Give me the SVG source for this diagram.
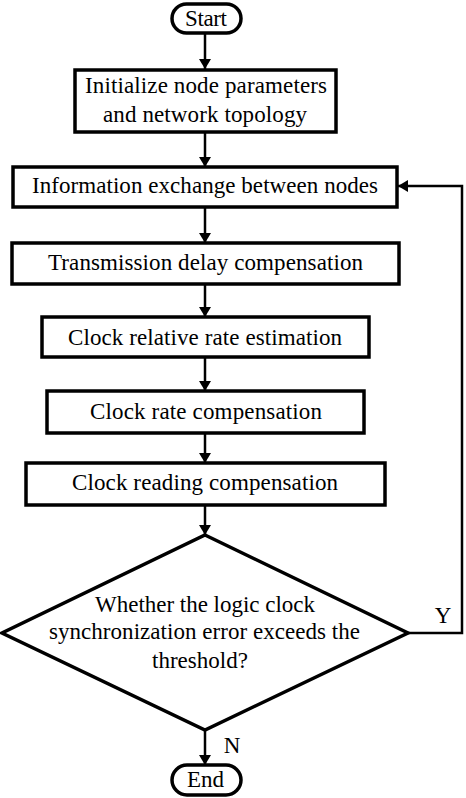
<svg xmlns="http://www.w3.org/2000/svg" width="466" height="798" viewBox="0 0 466 798">
<defs>
<marker id="arr" markerWidth="10" markerHeight="12" refX="10" refY="6" orient="auto" markerUnits="userSpaceOnUse">
<path d="M0,0 L10,6 L0,12 Z" fill="#000"/>
</marker>
</defs>
<style>
.box{fill:#fff;stroke:#000;stroke-width:3.5}
.c{fill:none;stroke:#000;stroke-width:2.5}
</style>
<rect width="466" height="798" fill="#fff"/>
<g id="connectors">
<line class="c" x1="205" y1="33" x2="205" y2="69" marker-end="url(#arr)"/>
<line class="c" x1="205" y1="132" x2="205" y2="167" marker-end="url(#arr)"/>
<line class="c" x1="205" y1="207" x2="205" y2="243" marker-end="url(#arr)"/>
<line class="c" x1="205" y1="284" x2="205" y2="317" marker-end="url(#arr)"/>
<line class="c" x1="205" y1="357" x2="205" y2="391" marker-end="url(#arr)"/>
<line class="c" x1="205" y1="433" x2="205" y2="463" marker-end="url(#arr)"/>
<line class="c" x1="205" y1="505" x2="205" y2="535" marker-end="url(#arr)"/>
<line class="c" x1="205" y1="730" x2="205" y2="765" marker-end="url(#arr)"/>
<polyline class="c" points="408,633 462,633 462,186 398,186" marker-end="url(#arr)"/>
<text font-family="Liberation Serif" font-size="23" text-anchor="middle" x="443" y="623">Y</text>
<text font-family="Liberation Serif" font-size="23" text-anchor="middle" x="232" y="753">N</text>
</g>
<g id="start">
<rect class="box" x="172" y="4" width="69" height="29" rx="14.5"/>
<text font-family="Liberation Serif" font-size="23" text-anchor="middle" x="206" y="26" textLength="42" lengthAdjust="spacing">Start</text>
</g>
<g id="init">
<rect class="box" x="75" y="70" width="261" height="62"/>
<text font-family="Liberation Serif" font-size="23" text-anchor="middle" x="206" y="93" textLength="242" lengthAdjust="spacing">Initialize node parameters</text>
<text font-family="Liberation Serif" font-size="23" text-anchor="middle" x="205" y="122" textLength="204" lengthAdjust="spacing">and network topology</text>
</g>
<g id="info">
<rect class="box" x="13" y="167" width="384" height="40"/>
<text font-family="Liberation Serif" font-size="23" text-anchor="middle" x="205" y="193" textLength="346" lengthAdjust="spacing">Information exchange between nodes</text>
</g>
<g id="trans">
<rect class="box" x="12" y="243" width="387" height="41"/>
<text font-family="Liberation Serif" font-size="23" text-anchor="middle" x="205.5" y="270" textLength="315" lengthAdjust="spacing">Transmission delay compensation</text>
</g>
<g id="relrate">
<rect class="box" x="42" y="317" width="327" height="40"/>
<text font-family="Liberation Serif" font-size="23" text-anchor="middle" x="205" y="345" textLength="274" lengthAdjust="spacing">Clock relative rate estimation</text>
</g>
<g id="ratecomp">
<rect class="box" x="47" y="391" width="317" height="42"/>
<text font-family="Liberation Serif" font-size="23" text-anchor="middle" x="206" y="419" textLength="232" lengthAdjust="spacing">Clock rate compensation</text>
</g>
<g id="readcomp">
<rect class="box" x="26" y="463" width="359" height="42"/>
<text font-family="Liberation Serif" font-size="23" text-anchor="middle" x="205" y="490" textLength="266" lengthAdjust="spacing">Clock reading compensation</text>
</g>
<g id="decision">
<polygon class="box" points="205,535 408,633 205,730 2,633"/>
<text font-family="Liberation Serif" font-size="23" text-anchor="middle" x="205" y="612" textLength="220" lengthAdjust="spacing">Whether the logic clock</text>
<text font-family="Liberation Serif" font-size="23" text-anchor="middle" x="204.5" y="639" textLength="311" lengthAdjust="spacing">synchronization error exceeds the</text>
<text font-family="Liberation Serif" font-size="23" text-anchor="middle" x="200" y="668" textLength="96" lengthAdjust="spacing">threshold?</text>
</g>
<g id="end">
<rect class="box" x="172" y="765" width="69" height="30" rx="15"/>
<text font-family="Liberation Serif" font-size="23" text-anchor="middle" x="205.5" y="787" textLength="37" lengthAdjust="spacing">End</text>
</g>
</svg>
